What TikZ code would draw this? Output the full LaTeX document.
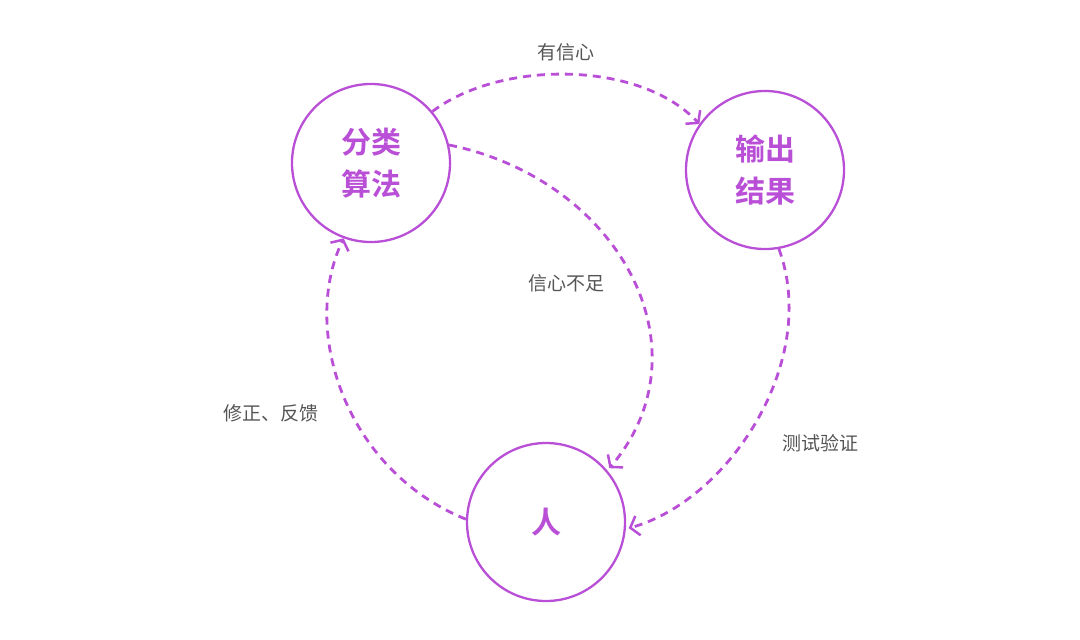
\documentclass[tikz,border=0pt]{standalone}
\usepackage{fontspec}
\newfontfamily\cjk{Noto Sans CJK SC}
\newfontfamily\cjkb{Noto Sans CJK SC Bold}
\usetikzlibrary{arrows.meta}
\definecolor{pur}{HTML}{B94FD6}
\definecolor{lab}{HTML}{555555}
\begin{document}
\begin{tikzpicture}[x=1pt,y=-1pt,
  circ/.style={circle,draw=pur,line width=2.3pt,minimum size=158pt,inner sep=0pt,text=pur,font=\cjkb\fontsize{30}{42}\selectfont,align=center},
  conn/.style={pur,line width=2.8pt,dash pattern=on 8pt off 6pt,-{Straight Barb[length=8pt,width=20pt,line width=2.5pt]}},
  lbl/.style={text=lab,font=\cjk\fontsize{19}{23}\selectfont}]
\useasboundingbox (0,0) rectangle (1080,640);
\node[circ] (A) at (371,163) {分类\\算法};
\node[circ] (B) at (765,170) {输出\\结果};
\node[circ] (C) at (546,522) {人};
\draw[conn] (A.40) .. controls (500,60) and (640,60) .. (B.145);
\draw[conn, shorten >=3pt] (A.13) .. controls (620,180) and (710,350) .. (C.40);
\draw[conn, shorten >=3pt] (B.-80) .. controls (820,360) and (730,500) .. (C.-5);
\draw[conn] (C.178) .. controls (345,470) and (300,330) .. (A.-110);
\node[lbl] (l1) at (566,52) {有信心};
\node[lbl] (l2) at (566,283) {信心不足};
\node[lbl] (l3) at (820,443) {测试验证};
\node[lbl] (l4) at (271,413) {修正、反馈};
\end{tikzpicture}
\end{document}
